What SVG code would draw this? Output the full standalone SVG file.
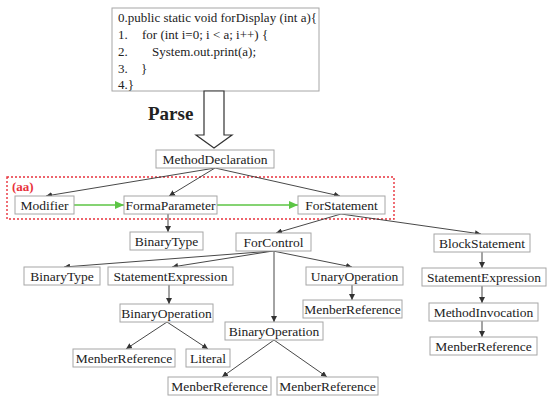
<svg xmlns="http://www.w3.org/2000/svg" width="550" height="404" viewBox="0 0 550 404">
<style>
text{font-family:"Liberation Serif","Times New Roman",serif}
.n rect{fill:#fff;stroke:#a6a6a6;stroke-width:1}
.n text{font-size:13.5px;fill:#222;text-anchor:middle}
.code{font-size:13px;fill:#222}
.parse{font-size:19px;font-weight:bold;fill:#222}
.aa{font-size:13px;font-weight:bold;fill:#e8323c}
.e{stroke:#333;stroke-width:0.9;fill:none;marker-end:url(#ah)}
.g{stroke:#5cc545;stroke-width:1.4;fill:none;marker-end:url(#gh)}
</style>
<defs>
<marker id="ah" markerUnits="userSpaceOnUse" markerWidth="7" markerHeight="6" refX="6" refY="3" orient="auto"><path d="M0,0 L6,3 L0,6 z" fill="#333"/></marker>
<marker id="gh" markerUnits="userSpaceOnUse" markerWidth="10" markerHeight="8" refX="9" refY="4" orient="auto"><path d="M0,0 L9,4 L0,8 z" fill="#5cc545"/></marker>
</defs>
<rect width="550" height="404" fill="#fff"/>
<g id="code">
<rect x="112" y="8" width="207" height="83" fill="#fff" stroke="#a6a6a6"/>
<text class="code" x="118" y="22">0.public static void forDisplay (int a){</text>
<text class="code" x="118" y="39">1.</text><text class="code" x="142" y="39">for (int i=0; i &lt; a; i++) {</text>
<text class="code" x="118" y="56">2.</text><text class="code" x="152" y="56">System.out.print(a);</text>
<text class="code" x="118" y="73">3.</text><text class="code" x="141" y="73">}</text>
<text class="code" x="118" y="89">4.}</text>
</g>
<g id="parse">
<polygon points="204,91 224,91 224,135 232,135 214,148 196,135 204,135" fill="#fff" stroke="#333" stroke-width="1.2"/>
<text class="parse" x="148" y="120">Parse</text>
</g>
<g id="group-aa">
<rect x="7" y="177" width="387" height="42" fill="none" stroke="#e8323c" stroke-width="1.4" stroke-dasharray="2,2"/>
<text class="aa" x="12" y="191">(aa)</text>
</g>
<g id="connectors">
<line class="e" x1="215" y1="168" x2="46" y2="196"/>
<line class="e" x1="215" y1="168" x2="169" y2="196"/>
<line class="e" x1="215" y1="168" x2="340" y2="196"/>
<line class="g" x1="74" y1="205" x2="124" y2="205"/>
<line class="g" x1="217" y1="205" x2="298" y2="205"/>
<line class="e" x1="168" y1="214" x2="168" y2="232"/>
<line class="e" x1="341" y1="214" x2="276" y2="233"/>
<line class="e" x1="341" y1="214" x2="481" y2="234"/>
<line class="e" x1="273" y1="251" x2="64" y2="267"/>
<line class="e" x1="273" y1="251" x2="172" y2="267"/>
<line class="e" x1="274" y1="251" x2="274" y2="322"/>
<line class="e" x1="273" y1="251" x2="352" y2="267"/>
<line class="e" x1="169" y1="285" x2="169" y2="304"/>
<line class="e" x1="167" y1="322" x2="126" y2="349"/>
<line class="e" x1="167" y1="322" x2="208" y2="349"/>
<line class="e" x1="352" y1="285" x2="352" y2="300"/>
<line class="e" x1="274" y1="340" x2="222" y2="377"/>
<line class="e" x1="274" y1="340" x2="327" y2="377"/>
<line class="e" x1="482" y1="252" x2="482" y2="268"/>
<line class="e" x1="482" y1="286" x2="482" y2="303"/>
<line class="e" x1="482" y1="321" x2="482" y2="337"/>
</g>
<g id="MethodDeclaration" class="n"><rect x="156" y="150" width="118" height="18"/><text x="215" y="163.5">MethodDeclaration</text></g>
<g id="Modifier" class="n"><rect x="15" y="196" width="59" height="18"/><text x="44.5" y="209.5">Modifier</text></g>
<g id="FormaParameter" class="n"><rect x="124" y="196" width="93" height="18"/><text x="170.5" y="209.5">FormaParameter</text></g>
<g id="ForStatement" class="n"><rect x="298" y="196" width="87" height="18"/><text x="341.5" y="209.5">ForStatement</text></g>
<g id="BinaryType1" class="n"><rect x="130" y="232" width="73" height="18"/><text x="166.5" y="245.5">BinaryType</text></g>
<g id="ForControl" class="n"><rect x="236" y="233" width="75" height="18"/><text x="273.5" y="246.5">ForControl</text></g>
<g id="BlockStatement" class="n"><rect x="434" y="234" width="96" height="18"/><text x="482" y="247.5">BlockStatement</text></g>
<g id="BinaryType2" class="n"><rect x="24" y="267" width="76" height="18"/><text x="62" y="280.5">BinaryType</text></g>
<g id="StatementExpression1" class="n"><rect x="108" y="267" width="125" height="18"/><text x="170.5" y="280.5">StatementExpression</text></g>
<g id="UnaryOperation" class="n"><rect x="306" y="267" width="97" height="18"/><text x="354.5" y="280.5">UnaryOperation</text></g>
<g id="StatementExpression2" class="n"><rect x="422" y="268" width="124" height="18"/><text x="484" y="281.5">StatementExpression</text></g>
<g id="BinaryOperation1" class="n"><rect x="120" y="304" width="93" height="18"/><text x="166.5" y="317.5">BinaryOperation</text></g>
<g id="MenberReference1" class="n"><rect x="303" y="300" width="99" height="18"/><text x="352.5" y="313.5">MenberReference</text></g>
<g id="MethodInvocation" class="n"><rect x="429" y="303" width="109" height="18"/><text x="483.5" y="316.5">MethodInvocation</text></g>
<g id="BinaryOperation2" class="n"><rect x="225" y="322" width="98" height="18"/><text x="274" y="335.5">BinaryOperation</text></g>
<g id="MenberReference2" class="n"><rect x="430" y="337" width="107" height="18"/><text x="483.5" y="350.5">MenberReference</text></g>
<g id="MenberReference3" class="n"><rect x="73" y="349" width="102" height="18"/><text x="124" y="362.5">MenberReference</text></g>
<g id="Literal" class="n"><rect x="186" y="349" width="44" height="18"/><text x="208" y="362.5">Literal</text></g>
<g id="MenberReference4" class="n"><rect x="168" y="377" width="103" height="18"/><text x="219.5" y="390.5">MenberReference</text></g>
<g id="MenberReference5" class="n"><rect x="277" y="377" width="101" height="18"/><text x="327.5" y="390.5">MenberReference</text></g>
</svg>
